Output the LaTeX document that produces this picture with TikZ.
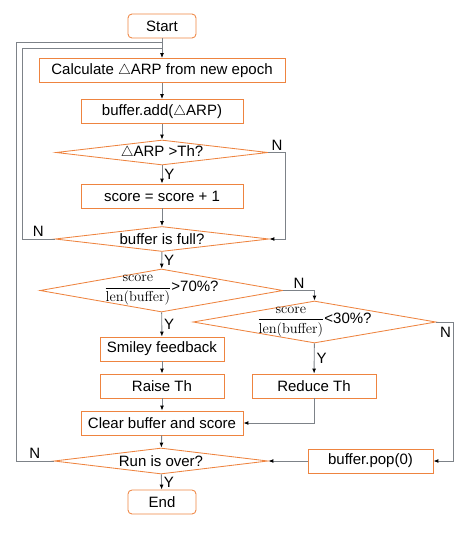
\documentclass[tikz,border=0pt]{standalone}
\usepackage{amsmath}
\usepackage[no-math]{fontspec}
\setmainfont{Liberation Sans}
\usetikzlibrary{shapes.geometric,arrows.meta}
\definecolor{boxorange}{RGB}{238,132,64}
\definecolor{linegray}{RGB}{125,130,136}

\begin{document}
\begin{tikzpicture}[x=1pt,y=-1pt,
        txt/.style={font=\fontsize{15}{17}\selectfont},
        box/.style={txt,draw=boxorange,line width=0.85pt,minimum height=24pt,inner sep=0pt},
        term/.style={box,rounded corners=4pt,minimum width=68pt},
        dec/.style={draw=boxorange,line width=0.85pt,diamond,inner sep=0pt},
        line/.style={draw=linegray,line width=0.9pt},
        arr/.style={line,-{Latex[length=5pt,width=4pt,color=black]}},
        every label/.style={txt},
        yn/.style={txt,inner sep=2pt}]
            \useasboundingbox (0,0) rectangle (474,536);
            % blocks
            \node[term] (start) at (162,26) {Start};
            \node[box,minimum width=246pt] (calc) at (162,70.5) {Calculate $\triangle$ARP from new epoch};
            \node[box,minimum width=162pt] (add) at (162,111.5) {buffer.add($\triangle$ARP)};
            \node[dec,minimum width=212pt,minimum height=25pt,label=center:{$\triangle$ARP >Th?}] (thr) at (162,152.5) {};
            \node[box,minimum width=162pt] (inc) at (162,196) {score = score + 1};
            \node[dec,minimum width=214pt,minimum height=25pt,label=center:{buffer is full?}] (full) at (162,239) {};
            \node[dec,minimum width=243pt,minimum height=43pt,label=center:{$\dfrac{\mathrm{score}}{\mathrm{len(buffer)}}$>70\%?}] (hi) at (161.5,290.5) {};
            \node[dec,minimum width=243pt,minimum height=42pt,label=center:{$\dfrac{\mathrm{score}}{\mathrm{len(buffer)}}$<30\%?}] (lo) at (314.5,322) {};
            \node[box,minimum width=124pt] (smile) at (162,349) {Smiley feedback};
            \node[box,minimum width=124pt] (raise) at (162,386) {Raise Th};
            \node[box,minimum width=124pt] (reduce) at (314,386) {Reduce Th};
            \node[box,minimum width=162pt] (clear) at (162,423) {Clear buffer and score};
            \node[dec,minimum width=214pt,minimum height=26pt,label=center:{Run is over?}] (run) at (161,461) {};
            \node[box,minimum width=125pt] (pop) at (370.5,461) {buffer.pop(0)};
            \node[term] (end) at (162,502) {End};
            % loop corners
            \coordinate (outerL) at (16,42);
            \coordinate (innerL) at (22,48);
            \coordinate (joinA) at (162,42);
            \coordinate (joinB) at (162,48);
            % connectors
            \draw[arr] (start)--(calc);
            \draw[arr] (calc)--(add);
            \draw[arr] (add)--(thr);
            \draw[arr] (thr)--node[yn,right]{Y}(inc);
            \draw[arr] (thr.east)--node[yn,above]{N}++(17,0)|-(full.east);
            \draw[arr] (inc)--(full);
            \draw[line] (full.west)-|node[yn,pos=0.25,above]{N}(innerL)--(joinB);
            \draw[arr] (full)--node[yn,right]{Y}(hi);
            \draw[arr] (hi.east)-|node[yn,pos=0.25,above]{N}(lo.north);
            \draw[arr] (hi)--node[yn,right]{Y}(smile);
            \draw[arr] (lo)--node[yn,right]{Y}(reduce);
            \draw[arr] (lo.east)--++(17,0)node[yn,below left,yshift=-3pt]{N}|-(pop.east);
            \draw[arr] (smile)--(raise);
            \draw[arr] (raise)--(clear);
            \draw[arr] (reduce)|-(clear);
            \draw[arr] (clear)--(run);
            \draw[arr] (pop)--(run);
            \draw[arr] (run)--node[yn,right]{Y}(end);
            \draw[line] (run.west)-|node[yn,pos=0.25,above]{N}(outerL)--(joinA);
        \end{tikzpicture}
\end{document}
